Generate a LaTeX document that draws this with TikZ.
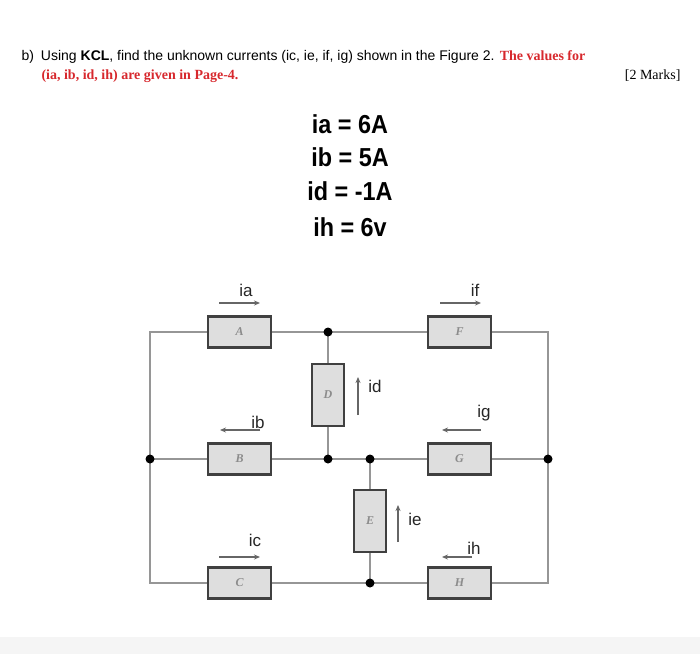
\documentclass[tikz,border=0pt]{standalone}
\usepackage{fontspec}
\usetikzlibrary{arrows.meta}
\setmainfont{Liberation Serif}
\setsansfont{Liberation Sans}
\definecolor{wire}{RGB}{150,150,150}
\definecolor{boxfill}{RGB}{222,222,222}
\definecolor{qred}{RGB}{215,40,45}
\begin{document}
\begin{tikzpicture}[x=1pt,y=-1pt,
  res/.style={draw=black!75,line width=2.6pt,fill=boxfill,inner sep=0pt,font=\rmfamily\bfseries\itshape\fontsize{12}{12}\selectfont,text=black!45},
  hres/.style={res,minimum width=63pt,minimum height=31pt},
  vres/.style={res,minimum width=32pt,minimum height=62pt},
  wr/.style={draw=wire,line width=2pt},
  dot/.style={circle,fill=black,inner sep=0pt,minimum size=9pt},
  cur/.style={draw=black!60,line width=1.3pt,-{Stealth[length=6pt,width=5pt]}},
  lab/.style={font=\sffamily\fontsize{17}{17}\selectfont,text=black!85},
  val/.style={font=\sffamily\bfseries\fontsize{26}{26}\selectfont}]
\useasboundingbox (0,0) rectangle (700,654);
\fill[black!4] (0,637) rectangle (700,654);
% header
\node[anchor=base west,font=\sffamily\fontsize{14}{14}\selectfont] (q1) at (18,60) {b)\enspace Using \textbf{KCL}, find the unknown currents (ic, ie, if, ig) shown in the Figure 2. \textcolor{qred}{\rmfamily\bfseries The values for}};
\node[anchor=base west,font=\rmfamily\bfseries\fontsize{14}{14}\selectfont,text=qred] (q2) at (38,79) {(ia, ib, id, ih) are given in Page-4.};
\node[anchor=base east,font=\rmfamily\fontsize{14}{14}\selectfont] (mk) at (684,79) {[2 Marks]};
\node[val,xscale=0.9] (v1) at (350,124) {ia = 6A};
\node[val,xscale=0.9] (v2) at (350,157) {ib = 5A};
\node[val,xscale=0.9] (v3) at (350,191) {id = -1A};
\node[val,xscale=0.9] (v4) at (350,227) {ih = 6v};
% nodes
\coordinate (TL) at (150,332); \coordinate (TR) at (548,332);
\coordinate (BL) at (150,583); \coordinate (BR) at (548,583);
\coordinate (ML) at (150,459); \coordinate (MR) at (548,459);
\coordinate (TD) at (328,332); \coordinate (MD) at (328,459);
\coordinate (ME) at (370,459); \coordinate (BE) at (370,583);
% wires
\draw[wr] (TL) -- (TR) -- (BR) -- (BL) -- cycle;
\draw[wr] (ML) -- (MR);
\draw[wr] (TD) -- (MD); \draw[wr] (ME) -- (BE);
\node[hres] (A) at (239.5,332) {A};
\node[hres] (F) at (459.5,332) {F};
\node[hres] (B) at (239.5,459) {B};
\node[hres] (G) at (459.5,459) {G};
\node[hres] (C) at (239.5,583) {C};
\node[hres] (H) at (459.5,583) {H};
\node[vres] (D) at (328,395) {D};
\node[vres] (E) at (370,521) {E};
\foreach \p in {ML,MR,TD,MD,ME,BE} \node[dot] at (\p) {};
% currents
\coordinate (a1) at (219,303); \coordinate (a2) at (260,303);
\draw[cur] (a1) -- (a2); \node[lab] (la) at (246,290) {ia};
\coordinate (f1) at (440,303); \coordinate (f2) at (481,303);
\draw[cur] (f1) -- (f2); \node[lab] (lf) at (475,290) {if};
\coordinate (b1) at (260,430); \coordinate (b2) at (220,430);
\draw[cur] (b1) -- (b2); \node[lab] (lb) at (258,422) {ib};
\coordinate (g1) at (481,430); \coordinate (g2) at (442,430);
\draw[cur] (g1) -- (g2); \node[lab] (lg) at (484,413) {ig};
\coordinate (c1) at (219,557); \coordinate (c2) at (260,557);
\draw[cur] (c1) -- (c2); \node[lab] (lc) at (255,540) {ic};
\coordinate (h1) at (472,557); \coordinate (h2) at (442,557);
\draw[cur] (h1) -- (h2); \node[lab] (lh) at (474,548) {ih};
\coordinate (d1) at (358,415); \coordinate (d2) at (358,377);
\draw[cur] (d1) -- (d2); \node[lab] (ld) at (375,386) {id};
\coordinate (e1) at (398,542); \coordinate (e2) at (398,505);
\draw[cur] (e1) -- (e2); \node[lab] (le) at (415,519) {ie};
\end{tikzpicture}
\end{document}
